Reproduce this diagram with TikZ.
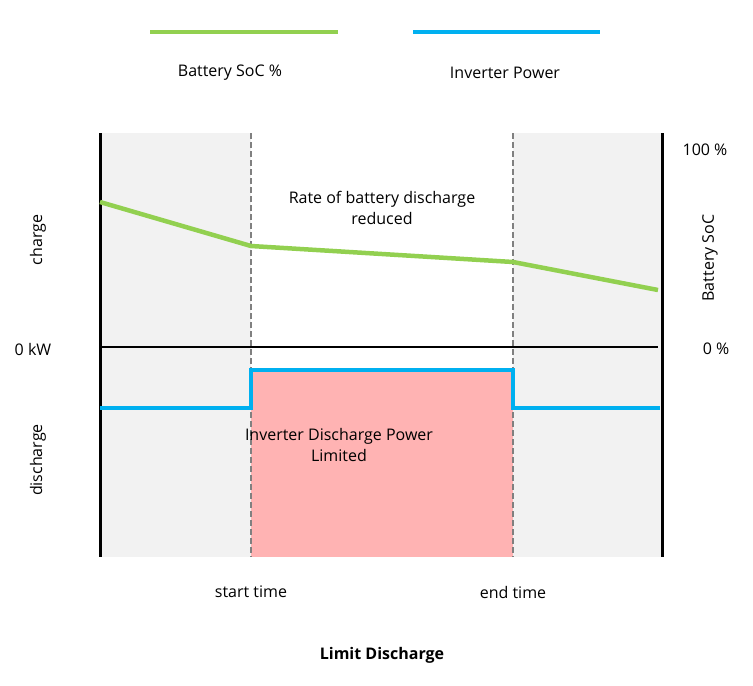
\documentclass[tikz,border=0pt]{standalone}
\usepackage{fontspec}
\setmainfont{Open Sans}
\begin{document}
\begin{tikzpicture}[x=1pt,y=-1pt,
  lbl/.style={font=\fontsize{16}{21}\selectfont, align=center, inner sep=0},
  socline/.style={draw=soc, line width=4.5},
  invline/.style={draw=inv, line width=4.5},
  dashline/.style={draw=gray, line width=2, dash pattern=on 6pt off 3pt}]
\definecolor{soc}{HTML}{92D050}
\definecolor{inv}{HTML}{00B0F0}
\definecolor{bg}{HTML}{F2F2F2}
\definecolor{pk}{HTML}{FFB3B3}
\useasboundingbox (0,0) rectangle (753,686);
% legend
\coordinate (g1) at (150,32); \coordinate (g2) at (338,32);
\coordinate (b1) at (413,32); \coordinate (b2) at (600,32);
\draw[socline] (g1) -- (g2);
\draw[invline] (b1) -- (b2);
\node[lbl] (lg) at (230,73) {Battery SoC \%};
\node[lbl] (lb) at (505,73) {Inverter Power};
% backgrounds
\fill[bg] (100,133) rectangle (251,557);
\fill[bg] (513,133) rectangle (662,557);
\fill[pk] (251,370) rectangle (513,557);
% axes
\draw[line width=2] (100,347) -- (658,347);
\draw[line width=3] (100,133) -- (100,557);
\draw[line width=3] (662,133) -- (662,557);
\draw[dashline] (251,133) -- (251,557);
\draw[dashline] (513,133) -- (513,557);
% curves
\draw[socline,line join=round] (100,202) -- (251,246) -- (513,262) -- (658,290);
\draw[invline] (100,408) -- (251,408) -- (251,370) -- (513,370) -- (513,408) -- (660,408);
% texts
\node[lbl] (t1) at (382,208) {Rate of battery discharge\\reduced};
\node[lbl] (t2) at (339,445) {Inverter Discharge Power\\Limited};
\node[lbl,rotate=90] (ch) at (38,240) {charge};
\node[lbl,rotate=90] (dc) at (38,460) {discharge};
\node[lbl] (kw) at (33,349) {0 kW};
\node[lbl] (p0) at (716,349) {0 \%};
\node[lbl] (p100) at (705,150) {100 \%};
\node[lbl,rotate=90] (bs) at (710,258) {Battery SoC};
\node[lbl] (st) at (251,592) {start time};
\node[lbl] (et) at (513,592) {end time};
\node[lbl,font=\fontsize{16}{21}\selectfont\bfseries] (ti) at (382,655) {Limit Discharge};
\end{tikzpicture}
\end{document}
